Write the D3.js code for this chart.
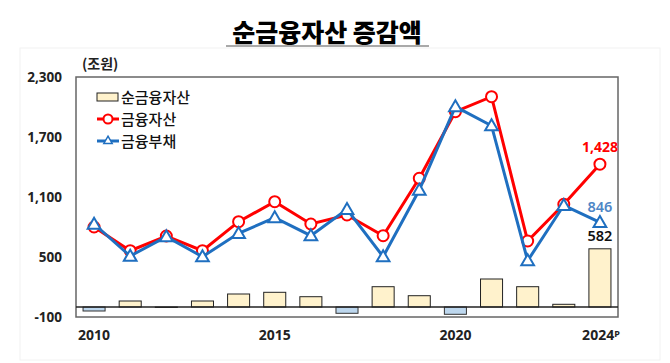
<!DOCTYPE html>
<html><head><meta charset="utf-8">
<script src="https://cdn.jsdelivr.net/npm/d3@7"></script>
<style>body{margin:0;background:#fff}svg{display:block}</style>
</head><body><svg id="c" width="670" height="363"></svg>
<script>
const years = [2010,2011,2012,2013,2014,2015,2016,2017,2018,2019,2020,2021,2022,2023,2024];
const yearLabels = {2010:"2010",2015:"2015",2020:"2020",2024:"2024"};
const netAssets = [-40,60,-5,60,130,147,103,-63,203,113,-73,280,203,27,582];
const finAssets = [800,563,710,563,853,1053,830,920,713,1287,1953,2103,660,1027,1428];
const finLiabs  = [830,510,703,503,737,893,713,977,503,1170,2003,1813,463,1017,846];
const yTicks = [-100,500,1100,1700,2300];
const seriesNames = ["순금융자산","금융자산","금융부채"];

const svg = d3.select("#c");
const L=76,R=618,T=77,B=317;
const x = d3.scaleBand().domain(years).range([L,R]).paddingInner(0.39).paddingOuter(0.195);
const xc = d=>x(d)+x.bandwidth()/2;
const y = d3.scaleLinear().domain([-100,2300]).range([B,T]);
const numFont = "'Noto Sans','Open Sans',sans-serif";
const krFont = "'Noto Sans CJK KR',sans-serif";
const fmt = v => d3.format(",")(v).replace("\u2212","-");

// faint outer box
svg.append("rect").attr("x",20).attr("y",48).attr("width",640).attr("height",312).attr("fill","none").attr("stroke","#f2f2f2");

// title
svg.append("text").attr("x",327).attr("y",42).attr("text-anchor","middle")
  .attr("font-family",krFont).attr("font-weight",900).attr("font-size",25).attr("fill","#000").text("순금융자산 증감액");
svg.append("line").attr("x1",226).attr("x2",429).attr("y1",46).attr("y2",46).attr("stroke","#555").attr("stroke-width",1.2);

// unit
svg.append("text").attr("x",82).attr("y",69).attr("font-family",krFont).attr("font-weight","bold").attr("font-size",14).attr("fill","#222").text("(조원)");

// frame
svg.append("rect").attr("x",L).attr("y",T).attr("width",R-L).attr("height",B-T).attr("fill","none").attr("stroke","#666").attr("stroke-width",1.5);

// y axis
const ya = svg.append("g").attr("transform",`translate(${L},0)`)
  .call(d3.axisLeft(y).tickValues(yTicks).tickSize(0).tickPadding(14).tickFormat(fmt));
ya.select(".domain").remove();
ya.selectAll("text").attr("font-family",numFont).attr("font-weight","bold").attr("font-size",13.5).attr("fill","#222");

// x axis
const xa = svg.append("g").attr("transform",`translate(0,${B})`)
  .call(d3.axisBottom(x).tickSize(0).tickPadding(13).tickFormat(d=>yearLabels[d]||""));
xa.select(".domain").remove();
xa.selectAll("text").attr("font-family",numFont).attr("font-weight","bold").attr("font-size",14).attr("fill","#222");
xa.selectAll(".tick").filter(d=>d===2024).select("text").attr("dx",1).append("tspan").attr("font-size",9).attr("dy",-3).text("P");

// bars
svg.append("g").selectAll("rect").data(years).join("rect")
  .attr("x",d=>x(d)).attr("width",x.bandwidth())
  .attr("y",(d,i)=>y(Math.max(0,netAssets[i])))
  .attr("height",(d,i)=>Math.abs(y(netAssets[i])-y(0)))
  .attr("fill",(d,i)=>netAssets[i]<0?"#BDD7EE":"#FFF2CC")
  .attr("stroke",(d,i)=>netAssets[i]<0?"#333":"#222").attr("stroke-width",1);

// zero line
svg.append("line").attr("x1",L).attr("x2",R).attr("y1",y(0)).attr("y2",y(0)).attr("stroke","#222").attr("stroke-width",1.5);

const line = d3.line().x((d,i)=>xc(years[i])).y(d=>y(d));
const red="#FF0000", blue="#1F6FC0";
svg.append("path").datum(finAssets).attr("d",line).attr("fill","none").attr("stroke",red).attr("stroke-width",3);
svg.append("g").selectAll("circle").data(finAssets).join("circle")
  .attr("cx",(d,i)=>xc(years[i])).attr("cy",d=>y(d)).attr("r",5.5)
  .attr("fill","#fff").attr("stroke",red).attr("stroke-width",2);
svg.append("path").datum(finLiabs).attr("d",line).attr("fill","none").attr("stroke",blue).attr("stroke-width",3);
const tri = d3.symbol().type(d3.symbolTriangle).size(70);
svg.append("g").selectAll("path").data(finLiabs).join("path")
  .attr("d",tri).attr("transform",(d,i)=>`translate(${xc(years[i])},${y(d)+1})`)
  .attr("fill","#fff").attr("stroke",blue).attr("stroke-width",2);

// value labels
const last = years.length-1, lx = xc(years[last]);
svg.append("text").attr("x",lx).attr("y",y(finAssets[last])-12).attr("text-anchor","middle")
  .attr("font-family",numFont).attr("font-weight","bold").attr("font-size",14).attr("fill",red).text(fmt(finAssets[last]));
svg.append("text").attr("x",lx).attr("y",y(finLiabs[last])-10).attr("text-anchor","middle")
  .attr("font-family",numFont).attr("font-weight",600).attr("font-size",14.5).attr("fill","#4F86C6").text(fmt(finLiabs[last]));
svg.append("text").attr("x",lx).attr("y",y(netAssets[last])-8).attr("text-anchor","middle")
  .attr("font-family",numFont).attr("font-weight",600).attr("font-size",14.5).attr("fill","#111").text(fmt(netAssets[last]));

// legend
const lg = svg.append("g");
const ly = [97,119,141];
lg.append("rect").attr("x",97).attr("y",ly[0]-4).attr("width",21).attr("height",8).attr("fill","#FFF2CC").attr("stroke","#222");
lg.append("line").attr("x1",97).attr("x2",119).attr("y1",ly[1]).attr("y2",ly[1]).attr("stroke",red).attr("stroke-width",3);
lg.append("circle").attr("cx",108).attr("cy",ly[1]).attr("r",4.5).attr("fill","#fff").attr("stroke",red).attr("stroke-width",2);
lg.append("line").attr("x1",97).attr("x2",119).attr("y1",ly[2]).attr("y2",ly[2]).attr("stroke",blue).attr("stroke-width",3);
lg.append("path").attr("d",d3.symbol().type(d3.symbolTriangle).size(30)).attr("transform",`translate(108,${ly[2]})`).attr("fill","#fff").attr("stroke",blue).attr("stroke-width",1.5);
lg.selectAll("text").data(seriesNames).join("text").attr("x",121).attr("y",(d,i)=>ly[i]+5.5)
  .attr("font-family",krFont).attr("font-size",15).attr("font-weight",500).attr("fill","#111").text(d=>d);
</script></body></html>
